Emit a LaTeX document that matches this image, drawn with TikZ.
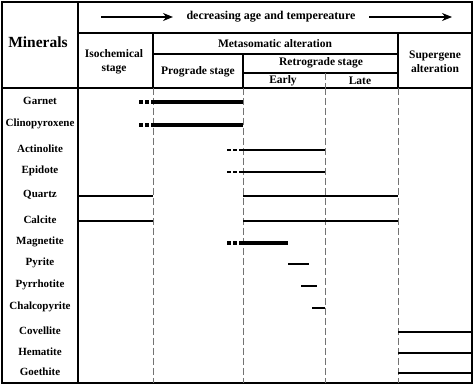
\documentclass[tikz,border=0pt]{standalone}
\usepackage{fontspec}
\setmainfont{Liberation Serif}
\usetikzlibrary{arrows.meta}
\tikzset{
  pg chart/.style={x=1pt, y=-1pt, line cap=butt},
  pg frame/.style={line width=1.8pt},
  pg rule/.style={line width=1.2pt},
  pg stage/.style={draw=black!55, line width=0.8pt, dash pattern=on 7pt off 3pt},
  pg thick/.style={line width=4.5pt},
  pg mid/.style={line width=2.6pt},
  pg thin/.style={line width=1.4pt},
  pg dots/.style={pg thick, dash pattern=on 4pt off 2pt},
  pg dash/.style={pg mid, dash pattern=on 4pt off 2pt},
  pg arrow/.style={-{Stealth[length=10pt,width=8pt]}, line width=1.1pt},
  pg title/.style={font=\bfseries\fontsize{12}{14}\selectfont},
  pg head/.style={align=center, font=\bfseries\fontsize{11.5}{14}\selectfont},
  pg mineral/.style={font=\bfseries\fontsize{11}{13}\selectfont}
}
\begin{document}
\begin{tikzpicture}[pg chart]
\useasboundingbox (0,0) rectangle (474,385);
% header grid
\draw[pg frame] (2,2) rectangle (472,383);
\draw[pg rule] (78,2) -- (78,383);
\draw[pg rule] (78,33) -- (472,33);
\draw[pg rule] (2,88) -- (472,88);
\draw[pg rule] (153,54) -- (398,54);
\draw[pg rule] (243,73) -- (398,73);
\draw[pg rule] (153,33) -- (153,88);
\draw[pg rule] (243,54) -- (243,88);
\draw[pg rule] (398,33) -- (398,88);
\draw[pg stage] (325,73) -- (325,88);
% stage boundaries
\foreach \x in {153,243,325,398}
  \draw[pg stage] (\x,88) -- (\x,383);
% header texts
\node[font=\bfseries\fontsize{15.5}{18}\selectfont] (minerals) at (38,42) {Minerals};
\node[pg title] (trend) at (271,17) {decreasing age and tempereature};
\coordinate (arrA) at (101,17);
\coordinate (arrB) at (452,17);
\draw[pg arrow] (arrA) -- ([xshift=-10pt]trend.west);
\draw[pg arrow] ([xshift=10pt]trend.east) -- (arrB);
\node[pg head] (iso) at (114,62) {Isochemical\\stage};
\node[pg head] (meta) at (275,44) {Metasomatic alteration};
\node[pg head] (pro) at (198,72) {Prograde stage};
\node[pg head] (retro) at (321,63) {Retrograde stage};
\node[pg head] (early) at (283,81) {Early};
\node[pg head] (late) at (360,81) {Late};
\node[pg head] (super) at (435,62) {Supergene\\alteration};
% minerals
\foreach \name/\y [count=\i] in {Garnet/102,Clinopyroxene/125,Actinolite/150,
    Epidote/172,Quartz/196,Calcite/221,Magnetite/243,Pyrite/264,
    Pyrrhotite/286,Chalcopyrite/308,Covellite/332,Hematite/353,Goethite/373}
  \node[pg mineral] (m\i) at (40,\y-1) {\name};
% occurrence bars
\foreach \y in {102,125}{
  \draw[pg dots] (139,\y) -- (151,\y);
  \draw[pg thick] (151,\y) -- (243,\y);
}
\foreach \y in {150,172}{
  \draw[pg dash] (227,\y) -- (242,\y);
  \draw[pg mid] (242,\y) -- (325,\y);
}
\foreach \y in {196,221}{
  \draw[pg thin] (78,\y) -- (153,\y);
  \draw[pg thin] (243,\y) -- (398,\y);
}
\draw[pg dots] (227,243) -- (242,243);
\draw[pg thick] (242,243) -- (288,243);
\draw[pg mid] (288,264) -- (309,264);
\draw[line width=2pt] (301,286) -- (317,286);
\draw[line width=2pt] (312,308) -- (325,308);
\foreach \y in {332,353,373}
  \draw[pg thin] (398,\y) -- (472,\y);
\end{tikzpicture}
\end{document}
